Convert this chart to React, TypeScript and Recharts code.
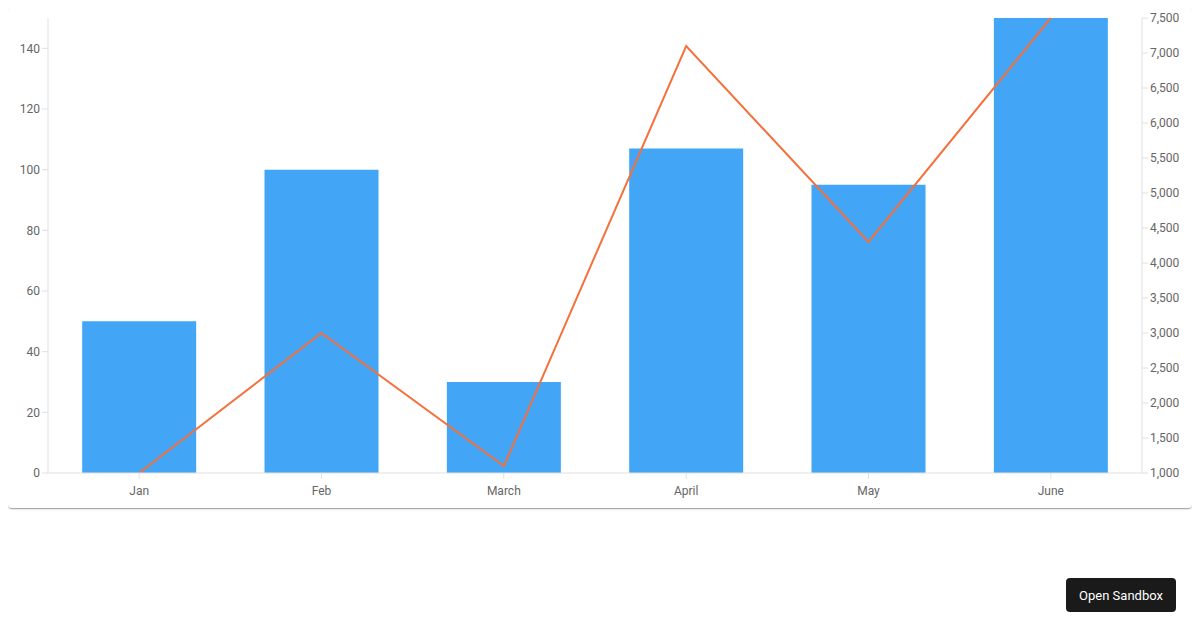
import React from "react";
import { ComposedChart, Bar, Line, XAxis, YAxis } from "recharts";

const months = ["Jan", "Feb", "March", "April", "May", "June"];
const barValues = [50, 100, 30, 107, 95, 150];
const lineValues = [1000, 3000, 1100, 7100, 4300, 7500];
const leftTicks = [0, 20, 40, 60, 80, 100, 120, 140];
const rightTicks = [
  1000, 1500, 2000, 2500, 3000, 3500, 4000, 4500, 5000, 5500, 6000, 6500, 7000, 7500,
];

const data = months.map((month, i) => ({
  month,
  bar: barValues[i],
  line: lineValues[i],
}));

const tickStyle = { fill: "#666", fontSize: 12, fontFamily: "Roboto, sans-serif" };
const axisLine = { stroke: "#e0e0e0" };

export default function App() {
  return (
    <div style={{ position: "relative", width: 1184, height: 614, fontFamily: "Roboto, sans-serif" }}>
      <div
        style={{
          width: 1184,
          height: 500,
          borderRadius: 4,
          background: "#fff",
          boxShadow:
            "0px 2px 1px -1px rgba(0,0,0,0.2), 0px 1px 1px 0px rgba(0,0,0,0.14), 0px 1px 3px 0px rgba(0,0,0,0.12)",
        }}
      >
        <ComposedChart
          width={1184}
          height={500}
          data={data}
          margin={{ top: 10, right: 0, left: 0, bottom: 0 }}
          barCategoryGap="18.75%"
        >
          <XAxis
            dataKey="month"
            height={35}
            tick={tickStyle}
            tickMargin={7}
            axisLine={axisLine}
            tickLine={axisLine}
          />
          <YAxis
            yAxisId="left"
            width={40}
            domain={[0, 150]}
            ticks={leftTicks}
            tick={tickStyle}
            axisLine={axisLine}
            tickLine={axisLine}
          />
          <YAxis
            yAxisId="right"
            orientation="right"
            width={50}
            domain={[1000, 7500]}
            ticks={rightTicks}
            tick={tickStyle}
            tickFormatter={(v: number) => v.toLocaleString("en-US")}
            axisLine={axisLine}
            tickLine={axisLine}
          />
          <Bar yAxisId="left" dataKey="bar" fill="#42a5f5" isAnimationActive={false} />
          <Line
            yAxisId="right"
            type="linear"
            dataKey="line"
            stroke="#f4703c"
            strokeWidth={2}
            dot={false}
            activeDot={false}
            isAnimationActive={false}
          />
        </ComposedChart>
      </div>
      <button
        style={{
          position: "absolute",
          left: 1058,
          top: 570,
          width: 110,
          height: 34,
          background: "#1a1a1a",
          color: "#fff",
          border: "none",
          borderRadius: 4,
          fontSize: 13,
          fontFamily: "Roboto, sans-serif",
          padding: 0,
        }}
      >
        Open Sandbox
      </button>
    </div>
  );
}
